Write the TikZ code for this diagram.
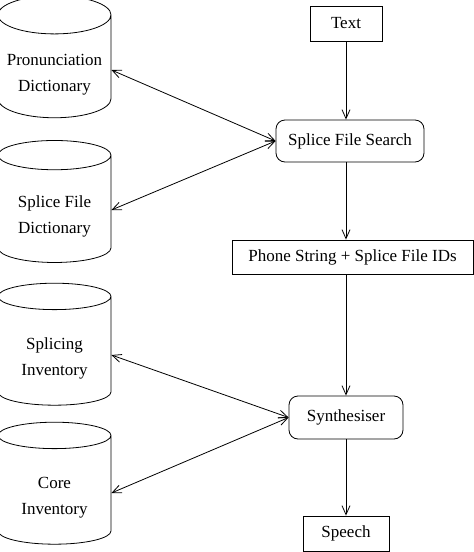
\documentclass[tikz,border=0pt]{standalone}
\usepackage{fontspec}
\setmainfont{Liberation Serif}
\usetikzlibrary{shapes.geometric, arrows.meta, positioning, calc}

\newcommand{\storetext}[1]{\raisebox{-11pt}[0pt][0pt]{\begin{tabular}{@{}c@{}}#1\end{tabular}}}

\tikzset{
    store/.style={cylinder, draw, line width=0.8pt, shape border rotate=90, aspect=0.4,
        minimum width=113pt, minimum height=122pt, inner sep=0pt},
    plainbox/.style={draw, line width=0.8pt, rectangle, inner sep=0pt},
    stagebox/.style={draw, line width=0.8pt, rectangle, rounded corners=9pt, inner sep=0pt},
    flow/.style={-{Straight Barb[length=9pt,width=8pt]}, line width=0.8pt},
    link/.style={{Straight Barb[length=9pt,width=8pt]}-{Straight Barb[length=9pt,width=8pt]}, line width=0.8pt}
}

\begin{document}
\begin{tikzpicture}[x=1pt, y=-1pt, font=\fontsize{17}{26}\selectfont]
    \useasboundingbox (0,0) rectangle (474,552);

    % Stores on the left
    \node[store] (pron) at (54.5, 66.5) {\storetext{Pronunciation\\Dictionary}};
    \node[store] (spdict) at (54.5, 209) {\storetext{Splice File\\Dictionary}};
    \node[store] (spinv) at (54.5, 351) {\storetext{Splicing\\Inventory}};
    \node[store] (core) at (54.5, 490) {\storetext{Core\\Inventory}};

    % Processing chain on the right
    \node[plainbox, minimum width=72pt, minimum height=35pt] (text) at (346, 23.5) {Text};
    \node[stagebox, minimum width=148pt, minimum height=42pt] (search) at (350, 141) {Splice File Search};
    \node[plainbox, minimum width=241pt, minimum height=34pt] (phones) at (352.5, 257) {Phone String + Splice File IDs};
    \node[stagebox, minimum width=114pt, minimum height=43pt] (synth) at (346, 417.5) {Synthesiser};
    \node[plainbox, minimum width=86pt, minimum height=35pt] (speech) at (346, 533.5) {Speech};

    % Main flow
    \draw[flow] (text.south) -- (text.south |- search.north);
    \draw[flow] (text.south |- search.south) -- (text.south |- phones.north);
    \draw[flow] (text.south |- phones.south) -- (text.south |- synth.north);
    \draw[flow] (synth.south) -- (speech.north);

    % Lookups
    \draw[link] ([yshift=-3.5pt]pron.east) -- (search.west);
    \draw[link] ([yshift=-1pt]spdict.east) -- (search.west);
    \draw[link] ([yshift=-4pt]spinv.east) -- (synth.west);
    \draw[link] ([yshift=-3pt]core.east) -- (synth.west);
\end{tikzpicture}
\end{document}
